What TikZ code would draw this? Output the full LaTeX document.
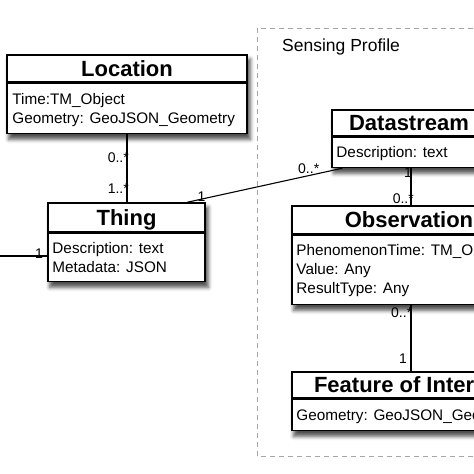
\documentclass[tikz,border=0pt]{standalone}
\usepackage{fontspec}
\setmainfont{Liberation Sans}
\usetikzlibrary{calc,shadows.blur,backgrounds}
\tikzset{
  hdr/.style={draw, line width=1.5pt, inner sep=0pt, text height=15pt, text depth=0pt,
    font=\fontsize{22}{24}\selectfont\bfseries},
  bodybox/.style={draw, line width=1.5pt, inner sep=0pt, anchor=north},
  attr/.style={anchor=north west, inner sep=0pt, align=left, font=\fontsize{15.3}{19}\selectfont},
  mult/.style={inner sep=0pt, font=\fontsize{14}{16}\selectfont},
  conn/.style={line width=1.1pt},
  frameshadow/.style={fill=white, blur shadow={shadow xshift=2.5pt, shadow yshift=-5pt,
    shadow blur radius=4pt, shadow opacity=70}},
  pkgframe/.style={draw=gray!70, dash pattern=on 5pt off 4pt, line width=0.8pt},
}
\begin{document}
\begin{tikzpicture}[x=1pt,y=-1pt]
\useasboundingbox (0,0) rectangle (474,474);
\clip (0,0) rectangle (474,474);

% package frame
\draw[pkgframe] (257,28) rectangle (495,456);
\node[anchor=base west, inner sep=0pt, font=\fontsize{17.5}{20}\selectfont] (sp) at (282,51) {Sensing Profile};

% Location
\node[hdr, minimum width=240pt, minimum height=27pt] (loc) at (127,68.5) {Location};
\node[bodybox, minimum width=240pt, minimum height=50pt] (locb) at (loc.south) {};
\node[attr] (loct) at ($(locb.north west)+(6,9.5)$) {\rule{0pt}{12pt}Time:TM\_Object\\Geometry: GeoJSON\_Geometry};

% Thing
\node[hdr, minimum width=157pt, minimum height=29pt] (thing) at (126.5,217.5) {Thing};
\node[bodybox, minimum width=157pt, minimum height=48pt] (thingb) at (thing.south) {};
\node[attr] (thingt) at ($(thingb.north west)+(5,9)$) {\rule{0pt}{12pt}Description: text\\Metadata: JSON};

% Datastream
\node[hdr, minimum width=154pt, minimum height=26pt] (ds) at (409,123) {Datastream};
\node[bodybox, minimum width=154pt, minimum height=30pt] (dsb) at (ds.south) {};
\node[attr] (dst) at ($(dsb.north west)+(5,9)$) {\rule{0pt}{12pt}Description: text};

% Observation
\node[hdr, minimum width=234pt, minimum height=28pt] (obs) at (409,220) {Observation};
\node[bodybox, minimum width=234pt, minimum height=69pt] (obsb) at (obs.south) {};
\node[attr] (obst) at ($(obsb.north west)+(5,9)$) {\rule{0pt}{12pt}PhenomenonTime: TM\_Object\\Value: Any\\ResultType: Any};

% Feature of Interest
\node[hdr, minimum width=236pt, minimum height=26pt] (foi) at (410,385) {Feature of Interest};
\node[bodybox, minimum width=236pt, minimum height=31pt] (foib) at (foi.south) {};
\node[attr] (foit) at ($(foib.north west)+(5,10)$) {\rule{0pt}{12pt}Geometry: GeoJSON\_Geometry};

% shadows / white fill behind the classes
\begin{scope}[on background layer]
  \clip (0,0) rectangle (474,474);
  \path[frameshadow] (loc.north west) rectangle (locb.south east);
  \path[frameshadow] (thing.north west) rectangle (thingb.south east);
  \path[frameshadow] (ds.north west) rectangle (dsb.south east);
  \path[frameshadow] (obs.north west) rectangle (obsb.south east);
  \path[frameshadow] (foi.north west) rectangle (foib.south east);
\end{scope}

% connectors
\draw[conn] (locb.south) -- (locb.south |- thing.north);
\draw[conn] ($(thing.north west)+(140,0)$) -- ($(dsb.south west)+(11,0)$);
\coordinate (lend) at (0,256);
\draw[conn] (lend) -- (lend -| thingb.west);
\coordinate (dsx) at ($(dsb.south)+(2,0)$);
\draw[conn] (dsx) -- (dsx |- obs.north);
\draw[conn] (obsb.south -| dsx) -- (foi.north -| dsx);

% multiplicities
\node[mult, anchor=base east] (m1) at (129,162) {0..*};
\node[mult, anchor=base east] (m2) at (129,193) {1..*};
\node[mult, anchor=base] (m3) at (201.5,201) {1};
\node[mult, anchor=base west] (m4) at (298,173) {0..*};
\node[mult, anchor=base] (m5) at (39,258) {1};
\node[mult, anchor=base] (m6) at (408,177) {1};
\node[mult, anchor=base east] (m7) at (414,203) {0..*};
\node[mult, anchor=base west] (m8) at (391,317) {0..*};
\node[mult, anchor=base] (m9) at (403,363) {1};
\end{tikzpicture}
\end{document}
